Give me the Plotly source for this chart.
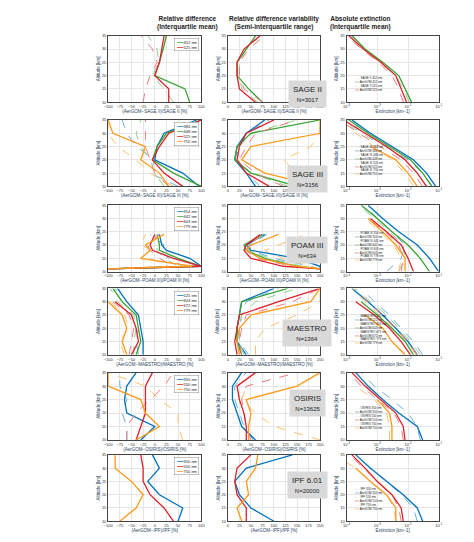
import plotly.graph_objects as go

W, H = 474, 542
OFF = 8  # page body margin compensation
alt = [10, 15, 20, 25, 30, 35]
alt_poam = [11, 12, 15, 18, 20, 24]

# ---- Row 1: SAGE II ----
r1_wl = ["452 nm", "525 nm"]
r1_d_sol = [[75, 65, 0, 10, 18, 25], [30, 30, 0, 10, 15, 20]]
r1_d_das = [[40, 20, -5, 8, 5, -15], [-25, -20, -10, 5, -5, -30]]
r1_v_sol = [[75, 45, 20, 20, 40, 60], [60, 25, 20, 20, 35, 70]]
r1_v_das = [[65, 30, 25, 25, 40, 70], [75, 35, 25, 25, 45, 80]]
r1_e_sol = [[1.3e-2, 8e-3, 5e-3, 1.5e-3, 4e-4, 1.5e-4], [9e-3, 6e-3, 4e-3, 1.3e-3, 3.5e-4, 1.2e-4]]
r1_e_das = [[1.1e-2, 7e-3, 4e-3, 1.2e-3, 3.5e-4, 1.3e-4], [7e-3, 5e-3, 3e-3, 1.1e-3, 3e-4, 1e-4]]

# ---- Row 2: SAGE III ----
r2_wl = ["384 nm", "448 nm", "525 nm", "755 nm"]
r2_d_sol = [[95, 60, 0, 5, 20, 90], [100, 40, -5, 5, 25, 100], [60, 20, -5, 10, 30, 100], [30, 10, -30, -20, -90, -100]]
r2_d_das = [[50, -10, 0, -40, -60, -70], [20, 0, -10, -30, -40, -30], [30, 0, -10, -20, -20, -20], [40, -10, -40, -80, -100, -100]]
r2_v_sol = [[60, 40, 15, 20, 40, 80], [150, 50, 15, 20, 50, 200], [90, 40, 20, 25, 40, 100], [200, 80, 30, 50, 200, 200]]
r2_v_das = [[70, 40, 15, 25, 40, 90], [130, 50, 20, 25, 50, 150], [120, 60, 25, 40, 60, 150], [200, 150, 120, 180, 200, 200]]
r2_e_sol = [[8e-2, 4e-2, 1.5e-2, 3e-3, 6e-4, 1.5e-4], [6e-2, 3e-2, 1.2e-2, 2.5e-3, 5e-4, 1.2e-4], [4e-2, 2e-2, 8e-3, 2e-3, 4e-4, 8e-5], [2e-2, 1e-2, 4e-3, 6e-4, None, None]]
r2_e_das = [[6e-2, 3e-2, 1e-2, 2e-3, 4e-4, 1e-4], [4e-2, 2e-2, 8e-3, 1.8e-3, 3e-4, 7e-5], [3e-2, 1.5e-2, 6e-3, 1.2e-3, 2.5e-4, 6e-5], [1.5e-2, 8e-3, 3e-3, 8e-4, 2e-4, 5e-5]]

# ---- Row 3: POAM III ----
r3_wl = ["354 nm", "442 nm", "603 nm", "779 nm"]
r3_d_sol = [[-100, 100, 75, 25, 15, 10], [-100, 100, 50, 10, 10, 5], [-100, 100, 40, -5, -10, 0], [-100, 80, -30, -10, -20, 20]]
r3_d_das = [[-100, 60, 30, 10, 20, -10], [-100, 50, 20, 5, 5, 0], [-100, 40, 10, -10, -15, 10], [-100, 30, -10, -5, -30, -20]]
r3_v_sol = [[200, 200, 150, 50, 40, 80], [200, 150, 80, 40, 35, 75], [200, 120, 50, 35, 40, 70], [200, 150, 70, 40, 50, 110]]
r3_v_das = [[200, 180, 100, 50, 45, 85], [200, 160, 90, 45, 40, 80], [200, 140, 60, 40, 45, 75], [200, 180, 120, 80, 110, 170]]
r3_e_sol = [[1e-1, 5e-2, 2e-2, 5e-3, 1.5e-3, 5e-4], [5e-2, 2.5e-2, 1e-2, 3e-3, 1e-3, 3e-4], [1.5e-2, 1e-2, 6e-3, 2e-3, 6e-4, None], [8e-3, 8e-3, 4e-3, 1.5e-3, 5e-4, None]]
r3_e_das = [[2e-3, 6e-3, 8e-3, 3e-3, 1e-3, 4e-4], [5e-3, 8e-3, 7e-3, 2.5e-3, 8e-4, 2.5e-4], [6e-3, 7e-3, 5e-3, 1.8e-3, 5e-4, None], [5e-3, 6e-3, 3.5e-3, 1.2e-3, 4e-4, None]]

# ---- Row 4: MAESTRO ----
r4_wl = ["525 nm", "603 nm", "672 nm", "779 nm"]
r4_d_sol = [[-25, -25, -30, -35, -60, -80], [-40, -30, -35, -40, -70, -90], [-50, -35, -40, -50, -85, None], [-60, -70, -60, -70, -100, None]]
r4_d_das = [[-35, -40, -35, -40, -70, -85], [-45, -45, -40, -45, -80, -95], [-55, -50, -45, -55, -90, None], [-65, -75, -55, -65, -95, None]]
r4_v_sol = [[40, 20, 20, 25, 30, 100], [30, 20, 20, 25, 30, 130], [20, 15, 20, 25, 110, 200], [25, 20, 25, 50, 180, 200]]
r4_v_das = [[45, 25, 25, 30, 40, 110], [35, 25, 25, 30, 60, 150], [30, 25, 30, 40, 140, 200], [60, 60, 80, 150, 200, 200]]
r4_e_sol = [[2e-2, 1e-2, 4e-3, 1.5e-3, 5e-4, 1.5e-4], [1.5e-2, 8e-3, 3e-3, 1e-3, 3e-4, None], [1.2e-2, 6e-3, 2.5e-3, 8e-4, 2e-4, None], [8e-3, 3e-3, 1.5e-3, 4e-4, None, None]]
r4_e_das = [[3e-2, 1.5e-2, 6e-3, 2.5e-3, 8e-4, 3e-4], [2.5e-2, 1.2e-2, 5e-3, 2e-3, 6e-4, 2e-4], [2e-2, 1e-2, 4e-3, 1.5e-3, 5e-4, 1.8e-4], [1.8e-2, 9e-3, 3.5e-3, 1.2e-3, 4e-4, 1.5e-4]]

# ---- Row 5: OSIRIS ----
r5_wl = ["350 nm", "550 nm", "750 nm"]
r5_d_sol = [[-30, 0, -60, -65, -60, -40], [-40, -30, -20, -20, -20, -5], [-40, 10, -20, -30, -100, -100]]
r5_d_das = [[-60, -60, -70, -60, -75, -75], [-60, -60, -40, -10, 20, 40], [60, 50, 50, 10, -20, -100]]
r5_v_sol = [[60, 30, 20, 10, 10, 30], [40, 40, 35, 25, 20, 60], [45, 45, 50, 40, 150, 200]]
r5_v_das = [[55, 35, 25, 15, 15, 40], [50, 40, 35, 30, 40, 150], [200, 100, 60, 30, 40, None]]
r5_e_sol = [[3e-2, 2e-2, 5e-3, 1.5e-3, 5e-4, 2e-4], [8e-3, 7e-3, 4e-3, 1.3e-3, 4e-4, 1.5e-4], [3e-3, 3e-3, 2.5e-3, 1e-3, None, None]]
r5_e_das = [[2.5e-2, 2e-2, 1e-2, 3e-3, 8e-4, 3e-4], [7e-3, 6e-3, 3.5e-3, 1e-3, 3e-4, 1.2e-4], [2.5e-3, 2.5e-3, 2e-3, 8e-4, 2e-4, None]]

# ---- Row 6: IPF 6.01 ----
r6_wl = ["350 nm", "550 nm", "750 nm"]
r6_d_sol = [[50, 60, 10, -15, 10, -5], [40, 20, -10, -25, -25, -30], [-75, -40, -25, -50, -85, -85]]
r6_v_sol = [[100, 50, 25, 15, 40, 140], [40, 40, 20, 15, 20, 50], [30, 20, 45, 40, 60, 65]]
r6_e_sol = [[3e-2, 2e-2, 7e-3, 2e-3, 6e-4, 2e-4], [7e-3, 6e-3, 3e-3, 1e-3, 4e-4, 1.5e-4], [4e-3, 4e-3, 2e-3, 6e-4, 2e-4, None]]
r6_e_das = [[2e-2, 1.5e-2, 6e-3, 2e-3, 6e-4, 2e-4], [6e-3, 5e-3, 3e-3, 1e-3, 3.5e-4, 1.3e-4], [4e-3, 3.5e-3, 2e-3, 6e-4, 2e-4, 4e-5]]

instr = ["SAGE II", "SAGE III", "POAM III", "MAESTRO", "OSIRIS", "IPF 6.01"]
refs = ["SAGE II", "SAGE III", "POAM III", "MAESTRO", "OSIRIS", "IPF"]
counts = ["N=3017", "N=3156", "N=634", "N=1364", "N=13625", "N=20000"]

C = {"b": "#0072BD", "g": "#3aa335", "r": "#e0202a", "o": "#ff9a1a"}
CL = {"b": "#6aaee0", "g": "#8fd08a", "r": "#f07a80", "o": "#ffc070"}
row_cols = [["g", "r"], ["b", "g", "r", "o"], ["b", "g", "r", "o"], ["b", "g", "r", "o"], ["b", "r", "o"], ["b", "r", "o"]]

rows = [
    (r1_wl, r1_d_sol, r1_d_das, r1_v_sol, r1_v_das, r1_e_sol, r1_e_das, alt),
    (r2_wl, r2_d_sol, r2_d_das, r2_v_sol, r2_v_das, r2_e_sol, r2_e_das, alt),
    (r3_wl, r3_d_sol, r3_d_das, r3_v_sol, r3_v_das, r3_e_sol, r3_e_das, alt_poam),
    (r4_wl, r4_d_sol, r4_d_das, r4_v_sol, r4_v_das, r4_e_sol, r4_e_das, alt),
    (r5_wl, r5_d_sol, r5_d_das, r5_v_sol, r5_v_das, r5_e_sol, r5_e_das, alt),
    (r6_wl, r6_d_sol, None, r6_v_sol, None, r6_e_sol, r6_e_das, alt),
]

col_px = [(105 - OFF, 200 - OFF), (227 - OFF, 321 - OFF), (348 - OFF, 442 - OFF)]
row_px = [(a - OFF, b - OFF) for a, b in [(33, 100), (118, 185), (204, 271), (288, 355), (373, 441), (456, 523)]]

fig = go.Figure()
lay = {}
ann = []
tf = dict(size=4, color="#333")
for ri, (wl, dsol, ddas, vsol, vdas, esol, edas, al) in enumerate(rows):
    y0, y1 = row_px[ri]
    for ci in range(3):
        k = ri * 3 + ci + 1
        xa = "x" if k == 1 else f"x{k}"
        ya = "y" if k == 1 else f"y{k}"
        xn = "xaxis" if k == 1 else f"xaxis{k}"
        yn = "yaxis" if k == 1 else f"yaxis{k}"
        xd = [col_px[ci][0] / W, col_px[ci][1] / W]
        yd = [1 - y1 / H, 1 - y0 / H]
        if ci == 0:
            sol, das = dsol, ddas
            xaxis = dict(range=[-100, 100], tickvals=[-100, -75, -50, -25, 0, 25, 50, 75, 100])
            xt = f"(AerGOM−{refs[ri]})/{refs[ri]} [%]"
        elif ci == 1:
            sol, das = vsol, vdas
            xaxis = dict(range=[0, 200], tickvals=list(range(0, 201, 25)))
            xt = f"(AerGOM−{refs[ri]})/{refs[ri]} [%]"
        else:
            sol, das = esol, edas
            xaxis = dict(type="log", range=[-4, -1], tickvals=[1e-4, 1e-3, 1e-2, 1e-1],
                         ticktext=["10<sup>-4</sup>", "10<sup>-3</sup>", "10<sup>-2</sup>", "10<sup>-1</sup>"])
            xt = "Extinction [km−1]"
        al_use = al if ci < 2 else alt
        leg_lines = []
        for wi, w in enumerate(wl):
            c = row_cols[ri][wi]
            if das is not None:
                fig.add_trace(go.Scatter(x=das[wi], y=al_use, xaxis=xa, yaxis=ya, mode="lines",
                                         line=dict(color=CL[c], width=1, dash="dash"),
                                         name=f"{refs[ri]} {w}", showlegend=False))
                if ci == 2:
                    leg_lines.append(f"<span style='color:{CL[c]}'>- - -</span> {refs[ri]} {w}")
            fig.add_trace(go.Scatter(x=sol[wi], y=al_use, xaxis=xa, yaxis=ya, mode="lines",
                                     line=dict(color=C[c], width=1.3),
                                     name=(w if ci == 0 else f"AerGOM {w}"), showlegend=False))
            if ci == 0:
                leg_lines.append(f"<span style='color:{C[c]}'>━━━</span> {w}")
            elif ci == 2:
                leg_lines.append(f"<span style='color:{C[c]}'>━━</span> AerGOM {w}")
        lay[xn] = dict(domain=xd, anchor=ya, showgrid=True, gridcolor="#e6e6e6", tickfont=tf,
                       showline=True, linecolor="#444", mirror=True, ticks="", zeroline=False,
                       title=dict(text=xt, font=dict(size=4.5), standoff=1), **xaxis)
        lay[yn] = dict(domain=yd, anchor=xa, range=[10, 35], tickvals=[10, 15, 20, 25, 30, 35],
                       showgrid=True, gridcolor="#e6e6e6", tickfont=tf, showline=True, linecolor="#444",
                       mirror=True, zeroline=False, title=dict(text="Altitude [km]", font=dict(size=4.5), standoff=1))
        if ci == 0:
            ann.append(dict(x=xd[1] - 0.004, y=yd[1] - 0.004, xref="paper", yref="paper",
                            xanchor="right", yanchor="top", align="left", showarrow=False,
                            text="<br>".join(leg_lines), font=dict(size=4, color="#222"),
                            bgcolor="white", bordercolor="#888", borderwidth=0.5, borderpad=1))
        elif ci == 2:
            ann.append(dict(x=xd[0] + 0.012, y=yd[0] + 0.015, xref="paper", yref="paper",
                            xanchor="left", yanchor="bottom", align="left", showarrow=False,
                            text="<br>".join(leg_lines), font=dict(size=3, color="#222")))
    ann.append(dict(x=(308 - OFF) / W, y=1 - (y0 + 45) / H, xref="paper", yref="paper",
                    text=f"{instr[ri]}<br><span style='font-size:6px'>{counts[ri]}</span>",
                    showarrow=False, font=dict(size=8, color="#222"), bgcolor="#d9d9d9",
                    borderpad=4, align="center"))

titles = ["Relative difference<br>(Interquartile mean)", "Relative difference variability<br>(Semi-interquartile range)",
          "Absolute extinction<br>(Interquartile mean)"]
for ci, t in enumerate(titles):
    ann.append(dict(x=(col_px[ci][0] + col_px[ci][1]) / 2 / W, y=1 - (row_px[0][0] - 3) / H,
                    xref="paper", yref="paper", yanchor="bottom",
                    text=f"<b>{t}</b>", showarrow=False, font=dict(size=6.5, color="#222")))

fig.update_layout(width=W, height=H, margin=dict(l=0, r=0, t=0, b=0), plot_bgcolor="white",
                  paper_bgcolor="white", font=dict(family="Liberation Sans"), annotations=ann,
                  showlegend=False, **lay)
fig.write_html("out.html")
